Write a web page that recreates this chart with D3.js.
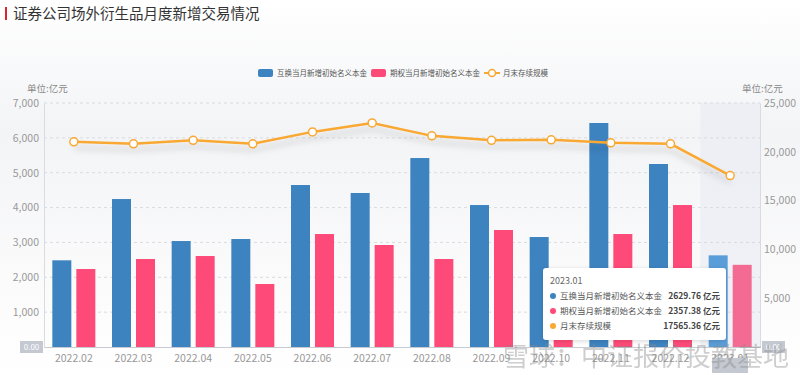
<!DOCTYPE html>
<html>
<head>
<meta charset="utf-8">
<script src="https://cdn.jsdelivr.net/npm/d3@7"></script>
<style>
  body { margin: 0; background: #fff; font-family: "Noto Sans CJK SC", "Noto Sans", sans-serif; }
  svg text { font-family: "Noto Sans CJK SC", "Noto Sans", sans-serif; }
</style>
</head>
<body>
<svg id="chart" width="800" height="375"></svg>
<script>
var months = ["2022.02","2022.03","2022.04","2022.05","2022.06","2022.07","2022.08","2022.09","2022.10","2022.11","2022.12","2023.01"];
var swapNew = [2487, 4245, 3040, 3098, 4647, 4418, 5421, 4073, 3155, 6426, 5250, 2629.76];
var optionNew = [2237, 2524, 2610, 1807, 3241, 2926, 2524, 3356, 2100, 3241, 4073, 2357.38];
var stockScale = [21020, 20816, 21173, 20816, 22040, 22959, 21633, 21173, 21224, 20918, 20816, 17565.36];
var leftTicks = [0, 1000, 2000, 3000, 4000, 5000, 6000, 7000];
var rightTicks = [0, 5000, 10000, 15000, 20000, 25000];
var seriesNames = ["互换当月新增初始名义本金", "期权当月新增初始名义本金", "月末存续规模"];

var svg = d3.select("#chart");
var margin = {top: 103, right: 40, bottom: 28, left: 44};
var width = 800 - margin.left - margin.right,
    height = 375 - margin.top - margin.bottom;

var defs = svg.append("defs");
var bgGrad = defs.append("linearGradient").attr("id", "bg").attr("x1", 0).attr("y1", 0).attr("x2", 0).attr("y2", 1);
bgGrad.append("stop").attr("offset", "0%").attr("stop-color", "#ffffff");
bgGrad.append("stop").attr("offset", "35%").attr("stop-color", "#f3f4f6");
bgGrad.append("stop").attr("offset", "70%").attr("stop-color", "#fafafb");
bgGrad.append("stop").attr("offset", "100%").attr("stop-color", "#ffffff");
var shadow = defs.append("filter").attr("id", "lineShadow").attr("x", "-10%").attr("y", "-50%").attr("width", "120%").attr("height", "300%");
shadow.append("feDropShadow").attr("dx", 0).attr("dy", 6).attr("stdDeviation", 3)
  .attr("flood-color", "#000").attr("flood-opacity", 0.18);
var boxShadow = defs.append("filter").attr("id", "boxShadow").attr("x", "-10%").attr("y", "-20%").attr("width", "120%").attr("height", "140%");
boxShadow.append("feDropShadow").attr("dx", 0).attr("dy", 1).attr("stdDeviation", 2)
  .attr("flood-color", "#000").attr("flood-opacity", 0.15);

svg.append("rect").attr("width", 800).attr("height", 375).attr("fill", "url(#bg)");

// title
svg.append("rect").attr("x", 5).attr("y", 7).attr("width", 2).attr("height", 13).attr("fill", "#d9262c");
svg.append("text").attr("x", 13).attr("y", 19).attr("font-size", 14.5).attr("fill", "#333")
  .text("证券公司场外衍生品月度新增交易情况");

var g = svg.append("g").attr("transform", "translate(" + margin.left + "," + margin.top + ")");

var x = d3.scaleBand().domain(months).range([0, width]);
var yL = d3.scaleLinear().domain([0, 7000]).range([height, 0]);
var yR = d3.scaleLinear().domain([0, 25000]).range([height, 0]);

// hover band
var hi = months.length - 1;
g.append("rect").attr("x", x(months[hi])).attr("y", 0).attr("width", x.bandwidth()).attr("height", height)
  .attr("fill", "#e9edf3").attr("opacity", 0.7);

// grid
g.selectAll(".grid").data(leftTicks.slice(1)).enter().append("line")
  .attr("x1", 0).attr("x2", width)
  .attr("y1", function(d) { return yL(d); }).attr("y2", function(d) { return yL(d); })
  .attr("stroke", "#d8dbe0").attr("stroke-dasharray", "3,3");

// axes
var axL = g.append("g").call(d3.axisLeft(yL).tickValues(leftTicks).tickSize(0).tickPadding(5).tickFormat(function(d) { return d === 0 ? "" : d3.format(",")(d); }));
axL.select(".domain").attr("stroke", "#d8dbe0");
axL.selectAll("text").attr("fill", "#999").attr("font-size", 10.5);

var axR = g.append("g").attr("transform", "translate(" + width + ",0)")
  .call(d3.axisRight(yR).tickValues(rightTicks).tickSize(0).tickPadding(4).tickFormat(function(d) { return d === 0 ? "" : d3.format(",")(d); }));
axR.select(".domain").attr("stroke", "#d8dbe0");
axR.selectAll("text").attr("fill", "#999").attr("font-size", 10.5);

var axX = g.append("g").attr("transform", "translate(0," + height + ")")
  .call(d3.axisBottom(x).tickSize(0).tickPadding(8));
axX.select(".domain").attr("stroke", "#c8ccd2");
axX.selectAll("text").attr("fill", "#999").attr("font-size", 10.5);

// units
svg.append("text").attr("x", 27).attr("y", 92).attr("font-size", 9.5).attr("fill", "#888").text("单位:亿元");
svg.append("text").attr("x", 742).attr("y", 92).attr("font-size", 9.5).attr("fill", "#888").text("单位:亿元");

// axis pointer labels
svg.append("rect").attr("x", 20).attr("y", 341).attr("width", 23).attr("height", 12).attr("fill", "#c3c8d1");
svg.append("text").attr("x", 31.5).attr("y", 350).attr("text-anchor", "middle").attr("font-size", 8).attr("fill", "#fff").text("0.00");
svg.append("rect").attr("x", 762).attr("y", 341).attr("width", 23).attr("height", 12).attr("fill", "#c3c8d1");
svg.append("text").attr("x", 773.5).attr("y", 350).attr("text-anchor", "middle").attr("font-size", 8).attr("fill", "#fff").text("0.00");
svg.append("rect").attr("x", 712).attr("y", 358).attr("width", 36).attr("height", 15).attr("fill", "#c3c8d1");

// bars
var barW = 19, off = 12;
g.selectAll(".swap").data(swapNew).enter().append("rect")
  .attr("x", function(d, i) { return x(months[i]) + x.bandwidth() / 2 - off - barW / 2; })
  .attr("y", function(d) { return yL(d); })
  .attr("width", barW)
  .attr("height", function(d) { return height - yL(d); })
  .attr("fill", function(d, i) { return i === hi ? "#5b9dd8" : "#3d83c0"; });

g.selectAll(".opt").data(optionNew).enter().append("rect")
  .attr("x", function(d, i) { return x(months[i]) + x.bandwidth() / 2 + off - barW / 2; })
  .attr("y", function(d) { return yL(d); })
  .attr("width", barW)
  .attr("height", function(d) { return height - yL(d); })
  .attr("fill", function(d, i) { return i === hi ? "#f36b93" : "#fe4a78"; });

// line
var line = d3.line()
  .x(function(d, i) { return x(months[i]) + x.bandwidth() / 2; })
  .y(function(d) { return yR(d); });
g.append("path").datum(stockScale).attr("d", line).attr("fill", "none")
  .attr("stroke", "#f9a833").attr("stroke-width", 2.5).attr("filter", "url(#lineShadow)");
g.selectAll(".pt").data(stockScale).enter().append("circle")
  .attr("cx", function(d, i) { return x(months[i]) + x.bandwidth() / 2; })
  .attr("cy", function(d) { return yR(d); })
  .attr("r", 4).attr("fill", "#fff").attr("stroke", "#f9a833").attr("stroke-width", 1.5);

// legend
var lg = svg.append("g").attr("font-size", 7.5).attr("fill", "#555");
lg.append("rect").attr("x", 258).attr("y", 69).attr("width", 15).attr("height", 8).attr("rx", 2).attr("fill", "#3d83c0");
lg.append("text").attr("x", 277).attr("y", 76).text(seriesNames[0]);
lg.append("rect").attr("x", 371).attr("y", 69).attr("width", 15).attr("height", 8).attr("rx", 2).attr("fill", "#fe4a78");
lg.append("text").attr("x", 390).attr("y", 76).text(seriesNames[1]);
lg.append("line").attr("x1", 484).attr("x2", 500).attr("y1", 73).attr("y2", 73).attr("stroke", "#f9a833").attr("stroke-width", 2);
lg.append("circle").attr("cx", 492).attr("cy", 73).attr("r", 3.5).attr("fill", "#fff").attr("stroke", "#f9a833").attr("stroke-width", 1.5);
lg.append("text").attr("x", 503).attr("y", 76).text(seriesNames[2]);

// tooltip
var tip = svg.append("g").attr("transform", "translate(543,268)");
tip.append("rect").attr("width", 183).attr("height", 72).attr("rx", 3).attr("fill", "#fff").attr("filter", "url(#boxShadow)");
tip.append("text").attr("x", 7).attr("y", 16).attr("font-size", 9).attr("fill", "#666").text(months[hi]);
var tipColors = ["#3d83c0", "#fe4a78", "#f9a833"];
var tipVals = [swapNew[hi], optionNew[hi], stockScale[hi]];
tipVals.forEach(function(v, i) {
  var yy = 31 + i * 15;
  tip.append("circle").attr("cx", 10).attr("cy", yy - 3).attr("r", 3).attr("fill", tipColors[i]);
  tip.append("text").attr("x", 17).attr("y", yy).attr("font-size", 8.5).attr("fill", "#555").text(seriesNames[i]);
  tip.append("text").attr("x", 177).attr("y", yy).attr("text-anchor", "end").attr("font-size", 8.5)
    .attr("font-weight", "bold").attr("fill", "#444").text(d3.format(".2f")(v) + " 亿元");
});

// watermark
svg.append("text").attr("x", 503).attr("y", 366).attr("font-size", 26).attr("fill", "#888").attr("opacity", 0.4)
  .text("雪球：中证报价投教基地");
</script>
</body>
</html>
